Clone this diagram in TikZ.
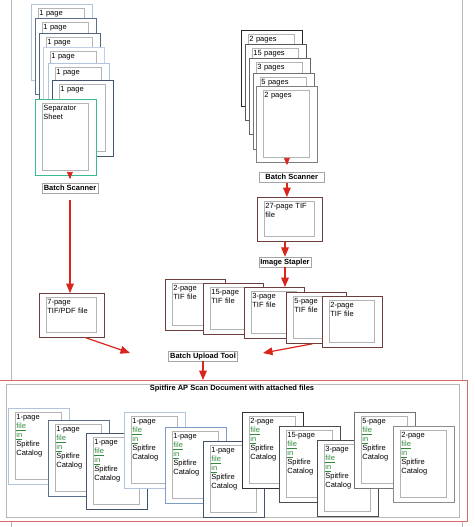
\documentclass[tikz,border=0pt]{standalone}
\usepackage{fontspec}
\setmainfont{Liberation Sans}
\usepackage[x11names, rgb]{xcolor}
\usepackage{tikz}
\usetikzlibrary{arrows,calc}

\definecolor{paleblue}{HTML}{B2C4DC}
\definecolor{steelblue}{HTML}{7E9CC4}
\definecolor{slateblue}{HTML}{5C6F8C}
\definecolor{darkslate}{HTML}{44546E}
\definecolor{sepgreen}{HTML}{3EBB8C}
\definecolor{innergray}{HTML}{B4B4B4}
\definecolor{filebrown}{HTML}{6E3E3E}
\definecolor{arrowred}{HTML}{D8261C}
\definecolor{framered}{HTML}{DA6A6A}
\definecolor{linegray}{HTML}{B8B8B8}
\definecolor{linkgreen}{HTML}{2E8A3A}

\newcommand{\cataloglink}[1]{\textcolor{linkgreen}{\underline{#1}}}

\begin{document}
\begin{tikzpicture}[x=1pt, y=-1pt, every node/.style={font=\fontsize{7.5}{9}\selectfont}]
\tikzset{
	sheet/.style = {draw = #1, fill = white, line width = 0.8pt, anchor = north west, align = left,
		text width = 45pt, inner xsep = 8pt, inner ysep = 5pt, text height = 6pt, text depth = 60pt,
		path picture = {\draw [innergray, line width = 0.6pt] ([shift={(7,4)}]path picture bounding box.north west)
			rectangle ([shift={(-8,-5)}]path picture bounding box.south east);}},
	tif/.style = {sheet = filebrown, text width = 44pt, text depth = 35pt},
	wide tif/.style = {sheet = filebrown, text width = 49pt, text depth = 28pt},
	tool/.style = {draw = gray!70, fill = white, line width = 0.5pt, inner xsep = 1.5pt, inner ysep = 1.5pt,
		text height = 6pt, text depth = 1pt, font = \bfseries\fontsize{7.5}{9}\selectfont},
	flow/.style = {draw = arrowred, line width = 1.2pt, -triangle 45},
	tick/.style = {draw = arrowred, line width = 0.6pt, -triangle 45},
}
\useasboundingbox (0,0) rectangle (474,527);

% page edges
\draw [linegray] (11,0) -- (11,380) (11,521) -- (11,527);
\draw [linegray] (462,0) -- (462,380) (462,521) -- (462,527);

% catalog frame
\node (frame) [draw = framered, line width = 0.8pt, anchor = north west, minimum width = 469pt, minimum height = 141pt, inner sep = 0] at (-2,380) {};
\node (doc) [draw = linegray, line width = 0.8pt, anchor = north west, minimum width = 453pt, minimum height = 133pt, inner sep = 0] at (6,384) {};
\node (title) [font = \bfseries\fontsize{7.5}{9}\selectfont] at (232,389) {Spitfire AP Scan Document with attached files};

\node (c1) [sheet = paleblue] at (8,408) {1-page\\\cataloglink{file}\\\cataloglink{in}\\Spitfire\\Catalog};
\node (c2) [sheet = slateblue] at (48,420) {1-page\\\cataloglink{file}\\\cataloglink{in}\\Spitfire\\Catalog};
\node (c3) [sheet = darkslate] at (86,433) {1-page\\\cataloglink{file}\\\cataloglink{in}\\Spitfire\\Catalog};
\node (c4) [sheet = paleblue] at (124,412) {1-page\\\cataloglink{file}\\\cataloglink{in}\\Spitfire\\Catalog};
\node (c5) [sheet = steelblue] at (165,427) {1-page\\\cataloglink{file}\\\cataloglink{in}\\Spitfire\\Catalog};
\node (c6) [sheet = darkslate] at (203,441) {1-page\\\cataloglink{file}\\\cataloglink{in}\\Spitfire\\Catalog};
\node (c7) [sheet = black!80] at (242,412) {2-page\\\cataloglink{file}\\\cataloglink{in}\\Spitfire\\Catalog};
\node (c8) [sheet = black!70] at (279,426) {15-page\\\cataloglink{file}\\\cataloglink{in}\\Spitfire\\Catalog};
\node (c9) [sheet = black!70] at (317,440) {3-page\\\cataloglink{file}\\\cataloglink{in}\\Spitfire\\Catalog};
\node (c10) [sheet = black!55] at (354,412) {5-page\\\cataloglink{file}\\\cataloglink{in}\\Spitfire\\Catalog};
\node (c11) [sheet = black!45] at (393,426) {2-page\\\cataloglink{file}\\\cataloglink{in}\\Spitfire\\Catalog};

% scanned batch, left
\node (l1) [sheet = paleblue] at (31,4) {1 page};
\node (l2) [sheet = slateblue] at (35,18) {1 page};
\node (l3) [sheet = slateblue!90!black] at (39,33) {1 page};
\node (l4) [sheet = paleblue!80] at (43,47) {1 page};
\node (l5) [sheet = paleblue] at (48,63) {1 page};
\node (l6) [sheet = darkslate] at (52,80) {1 page};
\node (sep) [sheet = sepgreen] at (35,99) {Separator\\Sheet};

\node (bs1) [tool, anchor = north west] at (42,183) {Batch Scanner};
\node (f7) [wide tif] at (39,293) {7-page\\TIF/PDF file};

% scanned batch, right
\node (r1) [sheet = black!85] at (241,30) {2 pages};
\node (r2) [sheet = black!65] at (245,44) {15 pages};
\node (r3) [sheet = black!60] at (249,58) {3 pages};
\node (r4) [sheet = black!55] at (253,73) {5 pages};
\node (r5) [sheet = black!50] at (256,86) {2 pages};

\node (bs2) [tool, anchor = north west, minimum width = 65pt] at (259,172) {Batch Scanner};
\node (f27) [wide tif] at (257,197) {27-page TIF\\file};
\node (stapler) [tool] at (285,262) {Image Stapler};

\node (t1) [tif] at (165,279) {2-page\\TIF file};
\node (t2) [tif] at (203,283) {15-page\\TIF file};
\node (t3) [tif] at (244,287) {3-page\\TIF file};
\node (t4) [tif] at (286,292) {5-page\\TIF file};
\node (t5) [tif] at (322,296) {2-page\\TIF file};

\node (upload) [tool] at (203,356) {Batch Upload Tool};

\coordinate (m1) at (130,353);
\coordinate (m2) at (263,353);

% arrows
\draw [tick, shorten >= 4pt] ([xshift=4pt]sep.south) -- ([xshift=4pt]sep.south |- bs1.north);
\draw [flow, shorten <= 6pt] (bs1.south) -- (f7.north -| bs1.south);
\draw [tick, shorten >= 7pt] (r5.south) -- (r5.south |- bs2.north);
\draw [flow] (r5.south |- bs2.south) -- (r5.south |- f27.north);
\draw [flow] (stapler.north |- f27.south) -- (stapler.north);
\draw [flow] (stapler.south) -- (stapler.south |- t3.north);
\draw [flow] ([xshift=14pt]f7.south) -- (m1);
\draw [flow] ([xshift=-4pt]t4.south) -- (m2);
\draw [flow] (upload.south) -- (upload.south |- frame.north);

\end{tikzpicture}
\end{document}
